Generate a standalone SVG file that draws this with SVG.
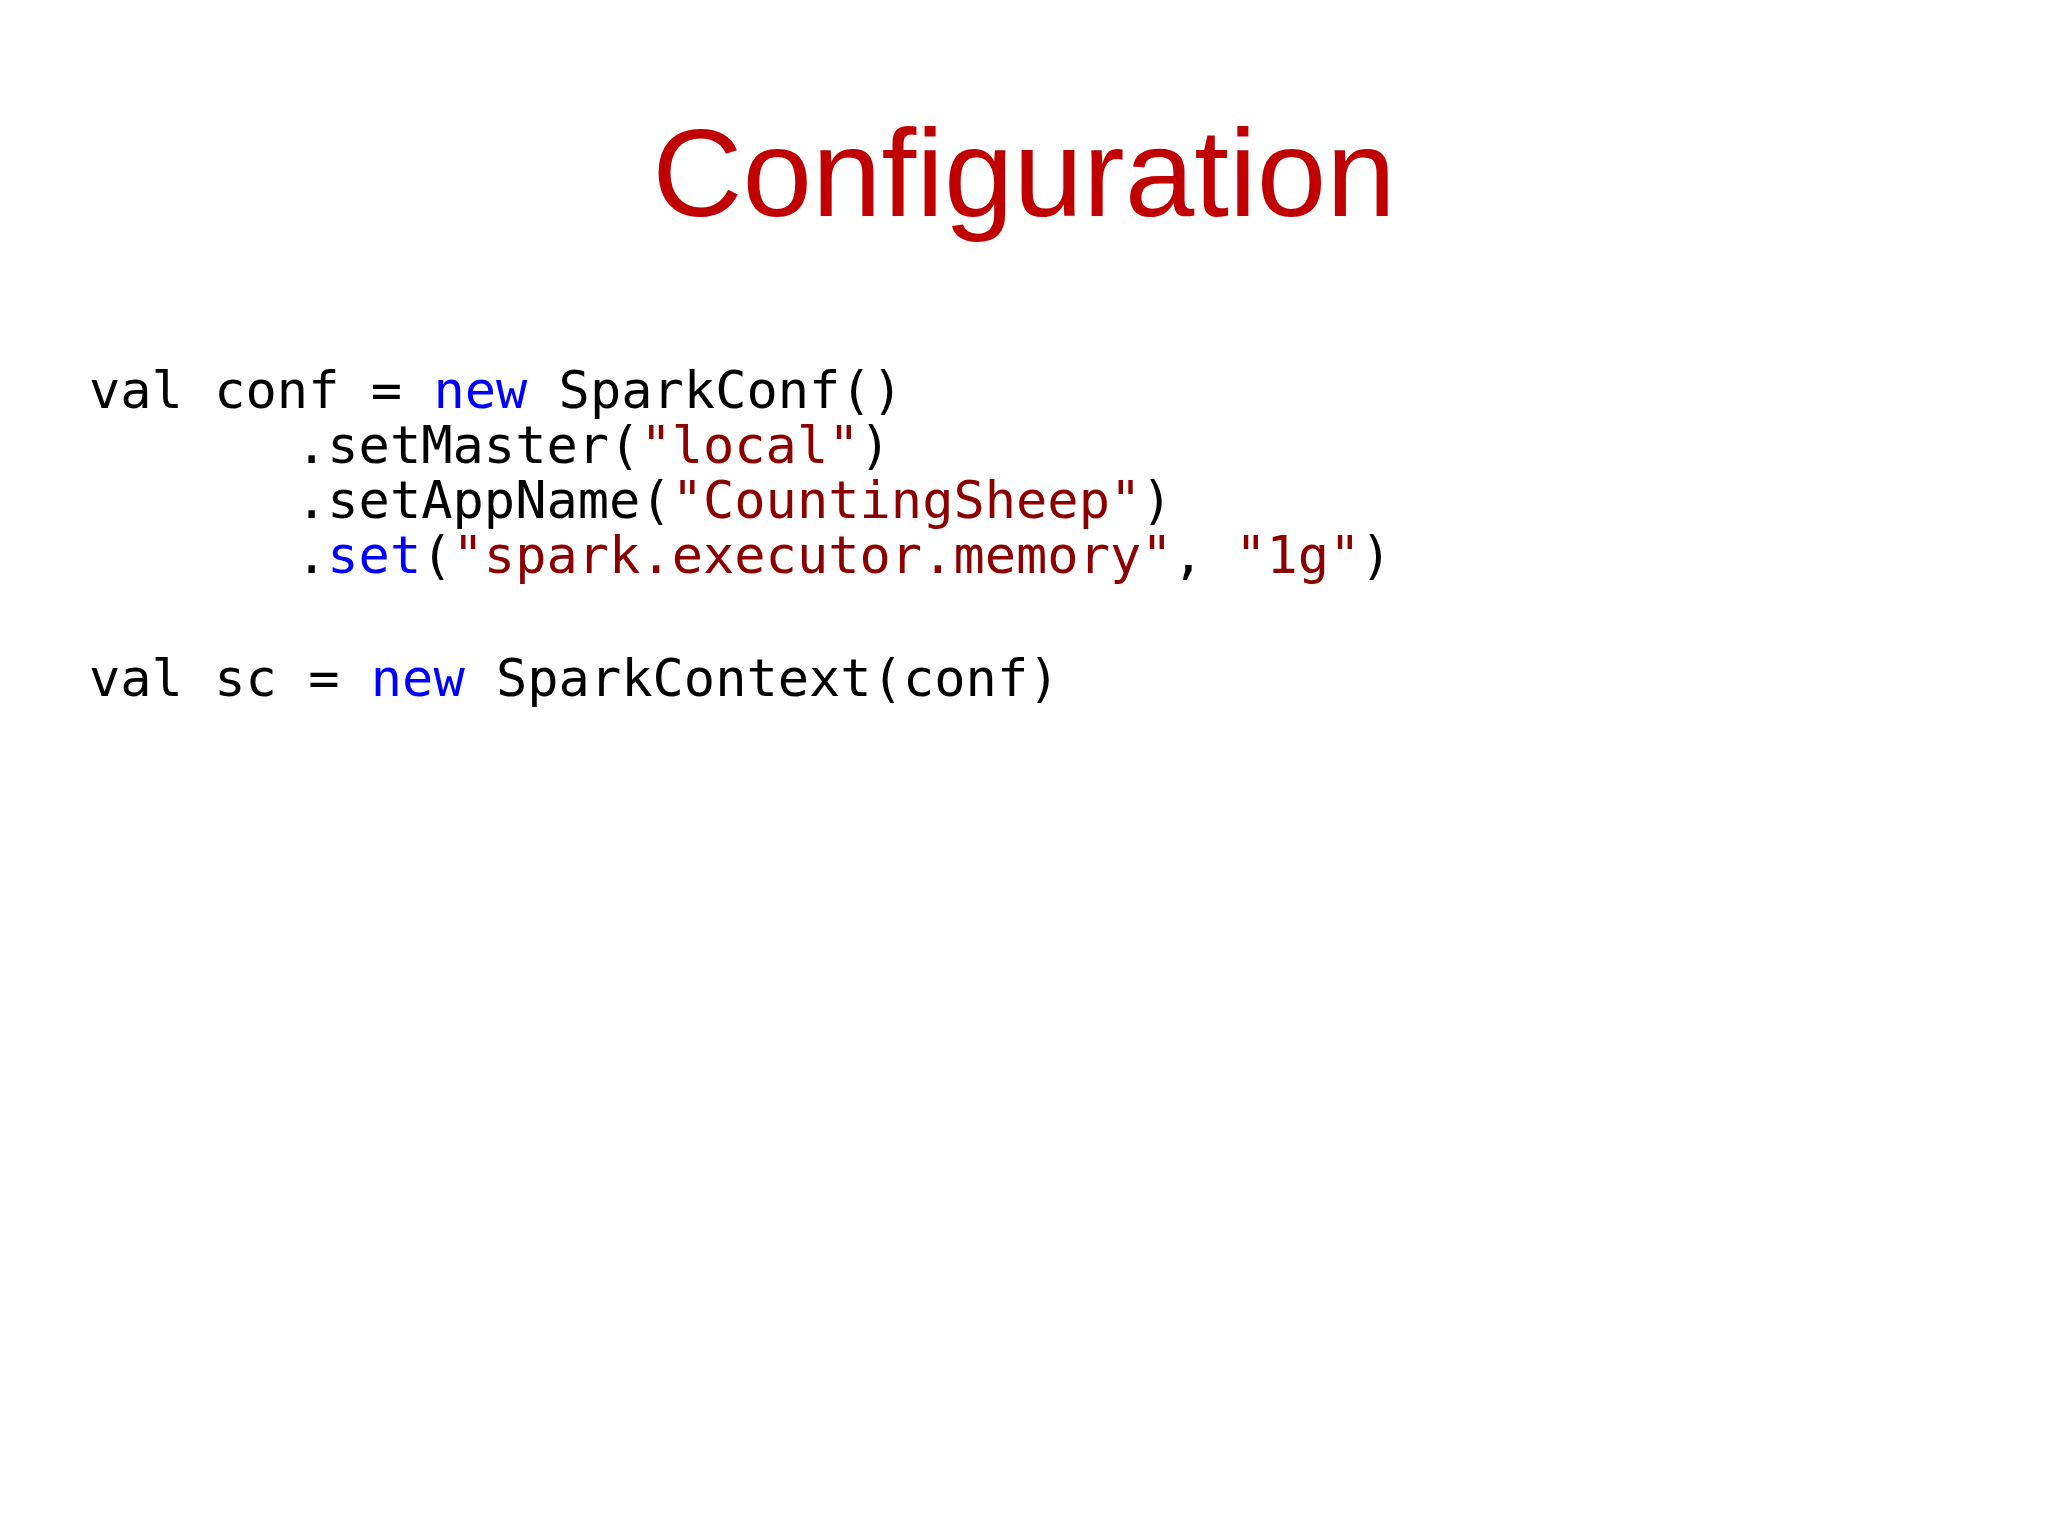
<svg xmlns="http://www.w3.org/2000/svg" width="2048" height="1536" viewBox="0 0 2048 1536">
<style>
.t{font-family:"Liberation Sans",Arial,sans-serif;font-size:125px;fill:#C00000}
.c{font-family:"DejaVu Sans Mono","Liberation Mono",monospace;font-size:52px;fill:#000}
.k{fill:#0000FF}
.s{fill:#8B0000}
</style>
<rect width="2048" height="1536" fill="#fff"/>
<g id="title"><text class="t" x="1024" y="216" text-anchor="middle">Configuration</text></g>
<g id="code">
<text class="c" x="89" y="408">val conf = <tspan class="k">new</tspan> SparkConf()</text>
<text class="c" x="296" y="463">.setMaster(<tspan class="s">"local"</tspan>)</text>
<text class="c" x="296" y="518">.setAppName(<tspan class="s">"CountingSheep"</tspan>)</text>
<text class="c" x="296" y="573">.<tspan class="k">set</tspan>(<tspan class="s">"spark.executor.memory"</tspan>, <tspan class="s">"1g"</tspan>)</text>
<text class="c" x="89" y="696">val sc = <tspan class="k">new</tspan> SparkContext(conf)</text>
</g>
</svg>
